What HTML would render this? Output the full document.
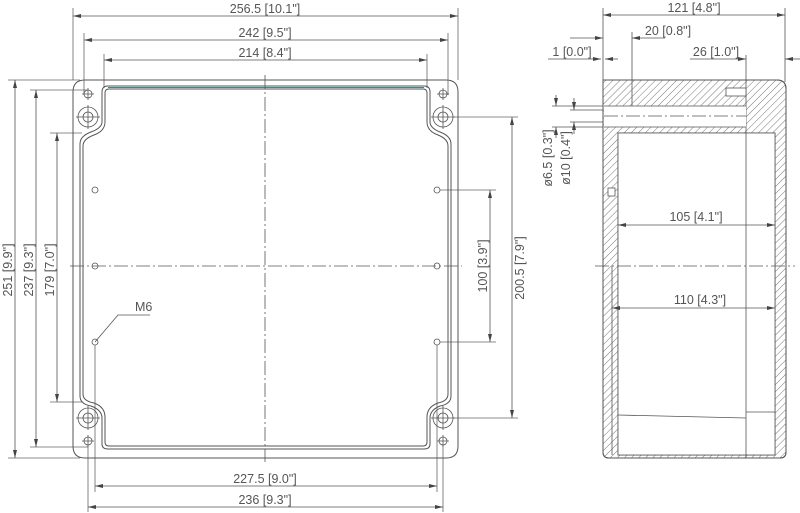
<!DOCTYPE html>
<html><head><meta charset="utf-8"><style>
html,body{margin:0;padding:0;background:#fff;}
svg{display:block;}
text{font-family:"Liberation Sans",sans-serif;font-size:12.5px;fill:#555;}
</style></head><body>
<svg width="800" height="513" viewBox="0 0 800 513" xmlns="http://www.w3.org/2000/svg">
<defs>
<pattern id="h" width="5" height="5" patternUnits="userSpaceOnUse" patternTransform="rotate(45)">
<line x1="0" y1="0" x2="0" y2="5" stroke="#555" stroke-width="0.8"/>
</pattern>
<marker id="a" markerWidth="8" markerHeight="6" refX="8" refY="3" orient="auto-start-reverse" markerUnits="userSpaceOnUse">
<path d="M0,1 L8,3 L0,5 z" fill="#444"/>
</marker>
</defs>
<g stroke="#666" stroke-width="0.8" fill="none">
<line x1="73" y1="8" x2="73" y2="80"/><line x1="458" y1="8" x2="458" y2="80"/>
<line x1="84" y1="33" x2="84" y2="95"/><line x1="448" y1="33" x2="448" y2="95"/>
<line x1="104" y1="54" x2="104" y2="88"/><line x1="427" y1="54" x2="427" y2="88"/>
<line x1="8" y1="80" x2="80" y2="80"/><line x1="8" y1="458" x2="80" y2="458"/>
<line x1="30" y1="90" x2="88" y2="90"/><line x1="30" y1="447" x2="88" y2="447"/>
<line x1="50" y1="133" x2="82" y2="133"/><line x1="50" y1="402" x2="82" y2="402"/>
<line x1="453" y1="117" x2="518" y2="117"/><line x1="453" y1="418" x2="518" y2="418"/>
<line x1="440" y1="190" x2="496" y2="190"/><line x1="440" y1="342" x2="496" y2="342"/>
<line x1="95" y1="345" x2="95" y2="492"/><line x1="437" y1="345" x2="437" y2="492"/>
<line x1="88" y1="445" x2="88" y2="512"/><line x1="443" y1="445" x2="443" y2="512"/>
</g>
<g stroke="#555" stroke-width="0.8" fill="none">
<line x1="73" y1="16" x2="458" y2="16" marker-start="url(#a)" marker-end="url(#a)"/>
<line x1="84" y1="40" x2="448" y2="40" marker-start="url(#a)" marker-end="url(#a)"/>
<line x1="104" y1="60" x2="427" y2="60" marker-start="url(#a)" marker-end="url(#a)"/>
<line x1="15" y1="80" x2="15" y2="458" marker-start="url(#a)" marker-end="url(#a)"/>
<line x1="36" y1="90" x2="36" y2="447" marker-start="url(#a)" marker-end="url(#a)"/>
<line x1="57" y1="133" x2="57" y2="402" marker-start="url(#a)" marker-end="url(#a)"/>
<line x1="512" y1="117" x2="512" y2="418" marker-start="url(#a)" marker-end="url(#a)"/>
<line x1="490" y1="190" x2="490" y2="342" marker-start="url(#a)" marker-end="url(#a)"/>
<line x1="95" y1="486" x2="437" y2="486" marker-start="url(#a)" marker-end="url(#a)"/>
<line x1="88" y1="507" x2="443" y2="507" marker-start="url(#a)" marker-end="url(#a)"/>
</g>
<g stroke="#555" stroke-width="1" fill="none">
<path d="M85,80 H446 Q458,80 458,92 V446 Q458,458 446,458 H85 Q73,458 73,446 V92 Q73,80 85,80 Z"/>
<path d="M108,86 H424 Q430,86 430,92 V122 Q430,128 440,132 Q451,136 451,144 V396 Q451,404 440,406 Q430,410 430,418 V444 Q430,449 424,449 H108 Q102,449 102,444 V418 Q102,410 91,406 Q80,404 80,396 V144 Q80,136 91,132 Q102,128 102,122 V92 Q102,86 108,86 Z"/>
<path d="M109,89 H423 Q427,89 427,93 V122 Q427,131 438,135 Q448,139 448,146 V394 Q448,401 438,403 Q427,407 427,417 V442 Q427,446 423,446 H109 Q105,446 105,442 V417 Q105,407 94,403 Q83,401 83,394 V146 Q83,139 94,135 Q105,131 105,122 V93 Q105,89 109,89 Z"/>
<line x1="108" y1="87.5" x2="424" y2="87.5" stroke="#3a8a8a" stroke-width="1"/>
</g>
<g stroke="#555" stroke-width="0.8" fill="none">
<circle cx="88" cy="117" r="10"/><circle cx="88" cy="117" r="5"/>
<circle cx="443" cy="117" r="10"/><circle cx="443" cy="117" r="5"/>
<circle cx="88" cy="418" r="10"/><circle cx="88" cy="418" r="5"/>
<circle cx="443" cy="418" r="10"/><circle cx="443" cy="418" r="5"/>
<circle cx="88" cy="94" r="4"/><circle cx="443" cy="94" r="4"/>
<circle cx="88" cy="441" r="4"/><circle cx="443" cy="441" r="4"/>
<circle cx="95" cy="190" r="3"/><circle cx="95" cy="266" r="3"/><circle cx="95" cy="342" r="3"/>
<circle cx="437" cy="190" r="3"/><circle cx="437" cy="266" r="3"/><circle cx="437" cy="342" r="3"/>
<path d="M76,117h24M88,105v24M431,117h24M443,105v24M76,418h24M88,406v24M431,418h24M443,406v24M82,94h12M88,88v12M437,94h12M443,88v12M82,441h12M88,435v12M437,441h12M443,435v12"/>
<path d="M95,342 L118,315 H150"/>
<line x1="265" y1="75" x2="265" y2="462" stroke-dasharray="14,3,2,3"/>
<line x1="70" y1="266" x2="462" y2="266" stroke-dasharray="14,3,2,3"/>
</g>
<g stroke="#555" stroke-width="0.8" fill="none">
<line x1="603" y1="8" x2="603" y2="82"/><line x1="785" y1="8" x2="785" y2="82"/>
<line x1="632" y1="32" x2="632" y2="125"/>
<line x1="746" y1="55" x2="746" y2="458"/>
<line x1="552" y1="106" x2="603" y2="106"/><line x1="552" y1="127" x2="603" y2="127"/>
<line x1="570" y1="110" x2="603" y2="110"/><line x1="570" y1="122" x2="603" y2="122"/>
<line x1="603" y1="15" x2="785" y2="15" marker-start="url(#a)" marker-end="url(#a)"/>
<line x1="570" y1="38" x2="603" y2="38" marker-end="url(#a)"/><line x1="665" y1="38" x2="632" y2="38" marker-end="url(#a)"/>
<line x1="548" y1="59" x2="601" y2="59" marker-end="url(#a)"/><line x1="618" y1="59" x2="605" y2="59" marker-end="url(#a)"/>
<line x1="690" y1="59" x2="746" y2="59" marker-end="url(#a)"/><line x1="800" y1="59" x2="785" y2="59" marker-end="url(#a)"/>
<line x1="556" y1="95" x2="556" y2="106" marker-end="url(#a)"/><line x1="556" y1="138" x2="556" y2="127" marker-end="url(#a)"/>
<line x1="574" y1="98" x2="574" y2="110" marker-end="url(#a)"/><line x1="574" y1="134" x2="574" y2="122" marker-end="url(#a)"/>
</g>
<path d="M603,80 H777 Q786,80 786,89 V452 Q786,458 780,458 H609 Q603,458 603,452 Z M618,133 V455 H775 V133 Z" fill="url(#h)" fill-rule="evenodd" stroke="#555" stroke-width="1"/>
<rect x="604" y="106" width="142" height="21" fill="#fff" stroke="none"/>
<g stroke="#555" stroke-width="0.8" fill="none">
<path d="M603,80 H777 Q786,80 786,89 V452 Q786,458 780,458 H609 Q603,458 603,452 Z" stroke-width="1"/>
<rect x="618" y="133" width="157" height="322" fill="#fff"/>
<line x1="604" y1="106" x2="746" y2="106"/><line x1="604" y1="127" x2="746" y2="127"/>
<line x1="604" y1="116" x2="746" y2="116" stroke-dasharray="14,3,2,3"/>
<line x1="746" y1="133" x2="746" y2="455"/>
<line x1="618" y1="415" x2="746" y2="418"/><line x1="746" y1="412" x2="775" y2="412"/>
<line x1="618" y1="225" x2="775" y2="225" marker-start="url(#a)" marker-end="url(#a)"/>
<line x1="612" y1="308" x2="775" y2="308" marker-start="url(#a)" marker-end="url(#a)"/>
<line x1="595" y1="266" x2="795" y2="266" stroke-dasharray="14,3,2,3"/>
<rect x="726" y="88" width="20" height="8" fill="#fff"/>
<rect x="608" y="188" width="7" height="8" fill="#fff"/>
<line x1="612" y1="266" x2="612" y2="455"/>
</g>
<text x="265" y="13" text-anchor="middle">256.5 [10.1"]</text>
<text x="265" y="37" text-anchor="middle">242 [9.5"]</text>
<text x="265" y="57" text-anchor="middle">214 [8.4"]</text>
<text x="265" y="483" text-anchor="middle">227.5 [9.0"]</text>
<text x="265" y="504" text-anchor="middle">236 [9.3"]</text>
<text x="135" y="311">M6</text>
<text transform="translate(12,270) rotate(-90)" text-anchor="middle">251 [9.9"]</text>
<text transform="translate(33,270) rotate(-90)" text-anchor="middle">237 [9.3"]</text>
<text transform="translate(54,270) rotate(-90)" text-anchor="middle">179 [7.0"]</text>
<text transform="translate(524,268) rotate(-90)" text-anchor="middle">200.5 [7.9"]</text>
<text transform="translate(487,266) rotate(-90)" text-anchor="middle">100 [3.9"]</text>
<text x="694" y="12" text-anchor="middle">121 [4.8"]</text>
<text x="668" y="35" text-anchor="middle">20 [0.8"]</text>
<text x="572" y="56" text-anchor="middle">1 [0.0"]</text>
<text x="716" y="56" text-anchor="middle">26 [1.0"]</text>
<text x="696" y="221" text-anchor="middle">105 [4.1"]</text>
<text x="700" y="304" text-anchor="middle">110 [4.3"]</text>
<text transform="translate(552,158) rotate(-90)" text-anchor="middle">ø6.5 [0.3"]</text>
<text transform="translate(570,158) rotate(-90)" text-anchor="middle">ø10 [0.4"]</text>
</svg>
</body></html>
